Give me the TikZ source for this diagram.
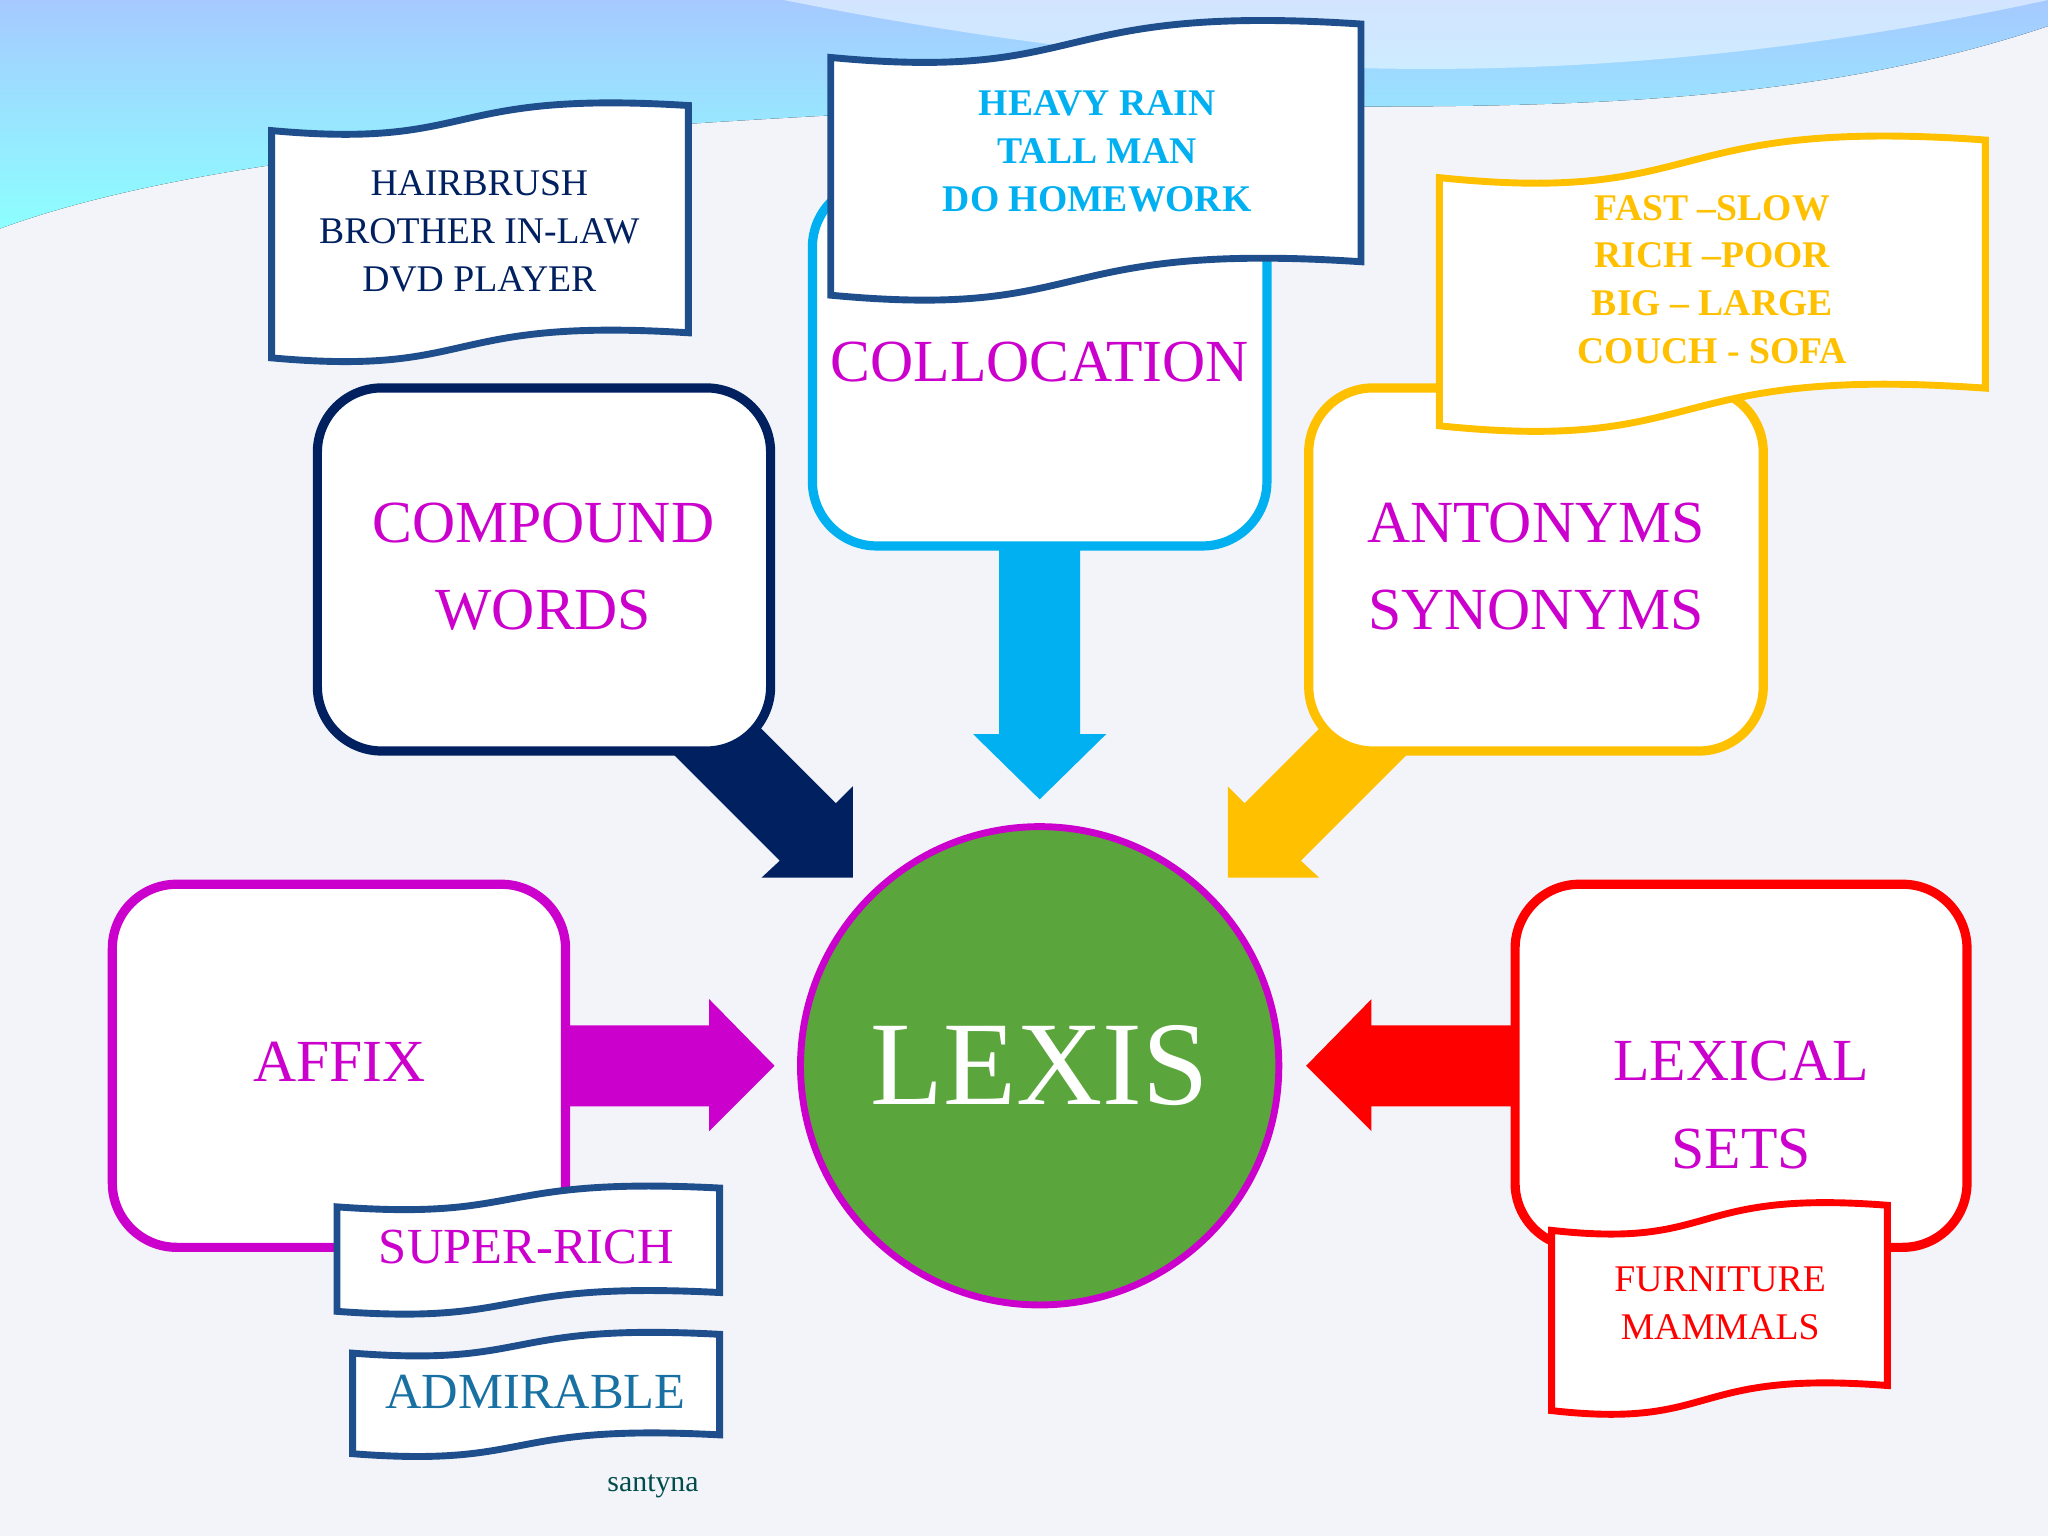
\documentclass[tikz,border=0pt]{standalone}
\usepackage{fontspec}
\setmainfont{Liberation Serif}
\definecolor{navy}{HTML}{002060}
\definecolor{dblue}{HTML}{1F4E8C}
\definecolor{cyanb}{HTML}{00B0F0}
\definecolor{gold}{HTML}{FFC000}
\definecolor{mag}{HTML}{CC00CC}
\definecolor{lgreen}{HTML}{5AA53C}
\definecolor{bgc}{HTML}{F3F4F9}
\newcommand\wban[6]{%
\pgfmathsetmacro\bw{#4-#2}%
\draw[line width=1.5pt,draw=#1,fill=white] (#2,{#3+#6}) .. controls ({#2+0.5*\bw},{#3+2.2*#6}) and ({#2+0.4*\bw},{#3-1.6*#6}) .. (#4,{#3-0.6*#6}) -- (#4,{#5-0.6*#6}) .. controls ({#2+0.4*\bw},{#5-1.6*#6}) and ({#2+0.5*\bw},{#5+2.2*#6}) .. (#2,{#5+#6}) -- cycle;}
\tikzset{box/.style={line width=2pt,rounded corners=14,fill=white},
 big/.style={font=\fontsize{13}{19}\selectfont,text=mag,align=center},
 small/.style={font=\fontsize{8.2}{10.4}\selectfont,align=center},
 smallb/.style={font=\fontsize{8.2}{10.4}\selectfont\bfseries,align=center}}
\begin{document}
\begin{tikzpicture}[x=0.01cm,y=-0.01cm]
\fill[bgc] (0,0) rectangle (1568,1176);
\useasboundingbox (0,0) rectangle (1568,1176);
\fill[top color=cyan!40!blue!35, bottom color=cyan!45!white] (0,0) -- (1568,0) -- (1568,20) .. controls (1300,110) and (1000,70) .. (700,85) .. controls (400,100) and (150,120) .. (0,175) -- cycle;
\fill[white,opacity=0.5] (600,0) .. controls (900,60) and (1200,80) .. (1568,0) -- cycle;
% diagonal arrows (under boxes)
\fill[navy] (505,567) -- (597,659) -- (583,672) -- (653,672) -- (653,602) -- (640,615) -- (580,555) -- cycle;
\fill[gold] (1088,567) -- (996,659) -- (1010,672) -- (940,672) -- (940,602) -- (953,615) -- (1013,555) -- cycle;
% hairbrush banner
\wban{dblue}{208}{88}{527}{262}{12}
\node[small,text=navy] (hb) at (367,177) {HAIRBRUSH\\BROTHER IN-LAW\\DVD PLAYER};
% boxes
\draw[box,draw=cyanb] (622,140) rectangle (970,418);
\node[big] (col) at (796,277) {COLLOCATION};
\wban{dblue}{636}{28}{1042}{210}{16}
\node[smallb,text=cyanb] (hr) at (840,116) {HEAVY  RAIN\\TALL MAN\\DO HOMEWORK};
\draw[box,draw=navy] (243,297) rectangle (590,575);
\node[big] (cw) at (416,434) {COMPOUND\\WORDS};
\draw[box,draw=gold] (1002,297) rectangle (1350,575);
\node[big] (as) at (1176,434) {ANTONYMS\\SYNONYMS};
\wban{gold}{1102}{118}{1520}{308}{18}
\node[smallb,text=gold] (fs) at (1311,214) {FAST –SLOW\\RICH –POOR\\BIG – LARGE\\COUCH - SOFA};
% arrows
\fill[cyanb] (765,420) -- (827,420) -- (827,562) -- (847,562) -- (796,612) -- (745,562) -- (765,562) -- cycle;
% circle
\node[circle,minimum size=3.66cm,fill=lgreen,draw=mag,line width=1.5pt,text=white,font=\fontsize{26}{26}\selectfont] (lx) at (796,816) {LEXIS};
% affix
\draw[box,draw=mag] (86,677) rectangle (433,955);
\node[big] (af) at (260,813) {AFFIX};
\fill[mag] (434,785) -- (543,785) -- (543,765) -- (593,816) -- (543,866) -- (543,847) -- (434,847) -- cycle;
\draw[box,draw=red] (1160,677) rectangle (1506,955);
\node[big] (ls) at (1333,846) {LEXICAL\\SETS};
\fill[red] (1159,785) -- (1050,785) -- (1050,765) -- (1000,816) -- (1050,866) -- (1050,847) -- (1159,847) -- cycle;
\wban{dblue}{258}{915}{551}{995}{9}
\node[font=\fontsize{11}{13}\selectfont,text=mag] (sr) at (403,955) {SUPER-RICH};
\wban{dblue}{270}{1027}{551}{1104}{9}
\node[font=\fontsize{11}{13}\selectfont,text=dblue!80!cyan] (ad) at (410,1066) {ADMIRABLE};
\wban{red}{1188}{930}{1445}{1068}{12}
\node[small,text=red] (fm) at (1317,998) {FURNITURE\\MAMMALS};
\node[font=\fontsize{6.5}{8}\selectfont,text=teal!60!black] (sa) at (500,1138) {santyna};
\end{tikzpicture}
\end{document}
